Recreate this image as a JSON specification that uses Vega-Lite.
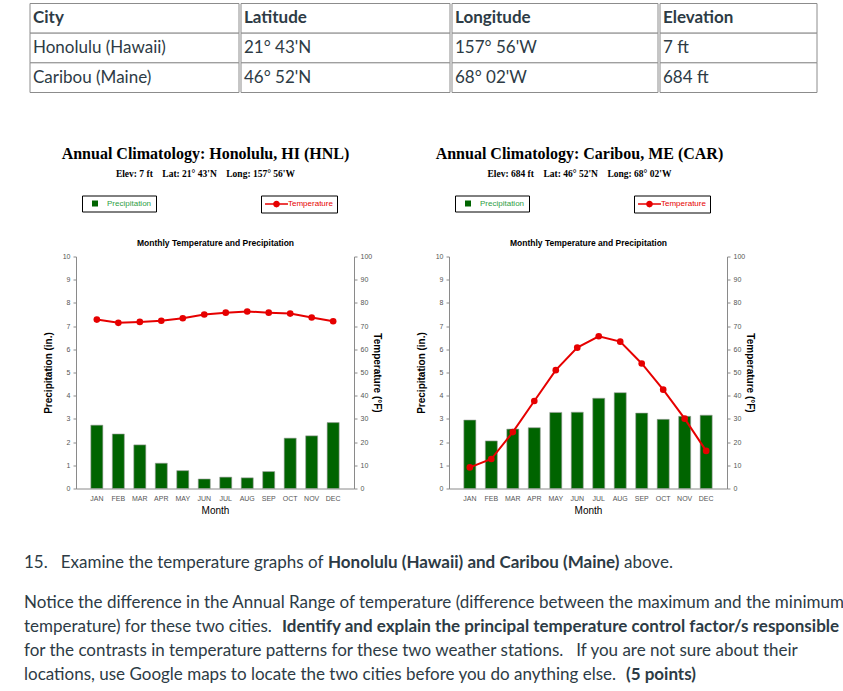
{
  "$schema": "https://vega.github.io/schema/vega-lite/v6.json",
  "padding": {"left": 24, "top": 2.5, "right": 0, "bottom": 0},
  "background": "white",
  "config": {
    "view": {"stroke": null},
    "axis": {
      "grid": false,
      "labelFont": "Liberation Sans",
      "titleFont": "Liberation Sans",
      "labelFontSize": 7,
      "labelColor": "#555555",
      "domainColor": "#8a8a8a",
      "tickColor": "#8a8a8a",
      "titleColor": "#000000"
    },
    "legend": {"labelFont": "Liberation Sans"},
    "text": {"font": "Lato"}
  },
  "datasets": {
    "table": [
      {"row": 1, "City": "City", "Latitude": "Latitude", "Longitude": "Longitude", "Elevation": "Elevation"},
      {"row": 2, "City": "Honolulu (Hawaii)", "Latitude": "21° 43'N", "Longitude": "157° 56'W", "Elevation": "7 ft"},
      {"row": 3, "City": "Caribou (Maine)", "Latitude": "46° 52'N", "Longitude": "68° 02'W", "Elevation": "684 ft"}
    ],
    "honolulu": [
      {"month": "JAN", "precip": 2.73, "temp": 72.8},
      {"month": "FEB", "precip": 2.35, "temp": 71.4},
      {"month": "MAR", "precip": 1.88, "temp": 71.8},
      {"month": "APR", "precip": 1.09, "temp": 72.3},
      {"month": "MAY", "precip": 0.77, "temp": 73.4},
      {"month": "JUN", "precip": 0.41, "temp": 75.0},
      {"month": "JUL", "precip": 0.49, "temp": 75.8},
      {"month": "AUG", "precip": 0.46, "temp": 76.3},
      {"month": "SEP", "precip": 0.73, "temp": 75.8},
      {"month": "OCT", "precip": 2.17, "temp": 75.4},
      {"month": "NOV", "precip": 2.27, "temp": 73.7},
      {"month": "DEC", "precip": 2.84, "temp": 72.1}
    ],
    "caribou": [
      {"month": "JAN", "precip": 2.95, "temp": 9.1},
      {"month": "FEB", "precip": 2.05, "temp": 12.7},
      {"month": "MAR", "precip": 2.56, "temp": 24.3},
      {"month": "APR", "precip": 2.62, "temp": 37.7},
      {"month": "MAY", "precip": 3.28, "temp": 51.0},
      {"month": "JUN", "precip": 3.29, "temp": 60.7},
      {"month": "JUL", "precip": 3.89, "temp": 65.6},
      {"month": "AUG", "precip": 4.13, "temp": 63.3},
      {"month": "SEP", "precip": 3.25, "temp": 53.9},
      {"month": "OCT", "precip": 2.98, "temp": 42.6},
      {"month": "NOV", "precip": 3.11, "temp": 30.1},
      {"month": "DEC", "precip": 3.16, "temp": 16.2}
    ],
    "question": [
      {"line": 1, "part": "a", "text": "15.\u00a0\u00a0 Examine the temperature graphs of"},
      {"line": 1, "part": "b", "text": "Honolulu (Hawaii) and Caribou (Maine)"},
      {"line": 1, "part": "c", "text": "above."}
    ],
    "paragraph": [
      {"line": 1, "part": "a", "text": "Notice the difference in the Annual Range of temperature (difference between the maximum and the minimum"},
      {"line": 2, "part": "a", "text": "temperature) for these two cities."},
      {"line": 2, "part": "b", "text": "Identify and explain the principal temperature control factor/s responsible"},
      {"line": 3, "part": "a", "text": "for the contrasts in temperature patterns for these two weather stations.\u00a0\u00a0 If you are not sure about their"},
      {"line": 4, "part": "a", "text": "locations, use Google maps to locate the two cities before you do anything else."},
      {"line": 4, "part": "b", "text": "(5 points)"}
    ]
  },
  "spacing": 52,
  "vconcat": [
    {
      "spacing": 0,
      "hconcat": [
        {
          "width": 209, "height": 89, "data": {"name": "table"},
          "layer": [
            {"mark": {"type": "rect", "fill": "#ffffff", "stroke": "#8c8c8c"},
             "encoding": {"y": {"field": "row", "type": "ordinal", "axis": null, "scale": {"paddingInner": 0, "paddingOuter": 0}}}},
            {"transform": [{"filter": "datum.row === 1"}],
             "mark": {"type": "text", "align": "left", "dx": 3, "fontSize": 17, "fontWeight": "bold", "color": "#2d3b45"},
             "encoding": {"y": {"field": "row", "type": "ordinal", "axis": null}, "x": {"value": 0}, "text": {"field": "City"}}},
            {"transform": [{"filter": "datum.row > 1"}],
             "mark": {"type": "text", "align": "left", "dx": 3, "fontSize": 17, "color": "#2d3b45"},
             "encoding": {"y": {"field": "row", "type": "ordinal", "axis": null}, "x": {"value": 0}, "text": {"field": "City"}}}
          ]
        },
        {
          "width": 209, "height": 89, "data": {"name": "table"},
          "layer": [
            {"mark": {"type": "rect", "fill": "#ffffff", "stroke": "#8c8c8c"},
             "encoding": {"y": {"field": "row", "type": "ordinal", "axis": null, "scale": {"paddingInner": 0, "paddingOuter": 0}}}},
            {"transform": [{"filter": "datum.row === 1"}],
             "mark": {"type": "text", "align": "left", "dx": 3, "fontSize": 17, "fontWeight": "bold", "color": "#2d3b45"},
             "encoding": {"y": {"field": "row", "type": "ordinal", "axis": null}, "x": {"value": 0}, "text": {"field": "Latitude"}}},
            {"transform": [{"filter": "datum.row > 1"}],
             "mark": {"type": "text", "align": "left", "dx": 3, "fontSize": 17, "color": "#2d3b45"},
             "encoding": {"y": {"field": "row", "type": "ordinal", "axis": null}, "x": {"value": 0}, "text": {"field": "Latitude"}}}
          ]
        },
        {
          "width": 206, "height": 89, "data": {"name": "table"},
          "layer": [
            {"mark": {"type": "rect", "fill": "#ffffff", "stroke": "#8c8c8c"},
             "encoding": {"y": {"field": "row", "type": "ordinal", "axis": null, "scale": {"paddingInner": 0, "paddingOuter": 0}}}},
            {"transform": [{"filter": "datum.row === 1"}],
             "mark": {"type": "text", "align": "left", "dx": 3, "fontSize": 17, "fontWeight": "bold", "color": "#2d3b45"},
             "encoding": {"y": {"field": "row", "type": "ordinal", "axis": null}, "x": {"value": 0}, "text": {"field": "Longitude"}}},
            {"transform": [{"filter": "datum.row > 1"}],
             "mark": {"type": "text", "align": "left", "dx": 3, "fontSize": 17, "color": "#2d3b45"},
             "encoding": {"y": {"field": "row", "type": "ordinal", "axis": null}, "x": {"value": 0}, "text": {"field": "Longitude"}}}
          ]
        },
        {
          "width": 157, "height": 89, "data": {"name": "table"},
          "layer": [
            {"mark": {"type": "rect", "fill": "#ffffff", "stroke": "#8c8c8c"},
             "encoding": {"y": {"field": "row", "type": "ordinal", "axis": null, "scale": {"paddingInner": 0, "paddingOuter": 0}}}},
            {"transform": [{"filter": "datum.row === 1"}],
             "mark": {"type": "text", "align": "left", "dx": 3, "fontSize": 17, "fontWeight": "bold", "color": "#2d3b45"},
             "encoding": {"y": {"field": "row", "type": "ordinal", "axis": null}, "x": {"value": 0}, "text": {"field": "Elevation"}}},
            {"transform": [{"filter": "datum.row > 1"}],
             "mark": {"type": "text", "align": "left", "dx": 3, "fontSize": 17, "color": "#2d3b45"},
             "encoding": {"y": {"field": "row", "type": "ordinal", "axis": null}, "x": {"value": 0}, "text": {"field": "Elevation"}}}
          ]
        }
      ]
    },
    {
      "spacing": 35,
      "vconcat": [
        {
          "spacing": 0,
          "hconcat": [
            {"width": 13, "height": 1, "data": {"values": [{"k": 0}]}, "mark": {"type": "point", "opacity": 0}},
            {
              "spacing": 34,
              "resolve": {"scale": {"fill": "independent", "stroke": "independent"}, "legend": {"fill": "independent", "stroke": "independent"}},
              "hconcat": [
                {
                  "width": 278, "height": 232,
                  "data": {"name": "honolulu"},
                  "title": {
                    "text": "Annual Climatology: Honolulu, HI (HNL)",
                    "subtitle": "Elev: 7 ft\u00a0\u00a0\u00a0\u00a0Lat: 21° 43'N\u00a0\u00a0\u00a0\u00a0Long: 157° 56'W",
                    "font": "Liberation Serif", "fontSize": 16, "fontWeight": "bold", "color": "#000000",
                    "subtitleFont": "Liberation Serif", "subtitleFontSize": 9.5, "subtitleFontWeight": "bold", "subtitleColor": "#000000",
                    "subtitlePadding": 7, "frame": "bounds", "anchor": "middle", "offset": 17, "dx": -7
                  },
                  "layer": [
                    {
                      "mark": {"type": "bar", "stroke": "#a0a0a0", "strokeWidth": 0.6},
                      "encoding": {
                        "x": {"field": "month", "type": "ordinal", "sort": ["JAN","FEB","MAR","APR","MAY","JUN","JUL","AUG","SEP","OCT","NOV","DEC"],
                              "scale": {"paddingInner": 0.44, "paddingOuter": 0.69},
                              "axis": {"orient": "bottom", "title": "Month", "labelAngle": 0, "ticks": false, "labelPadding": 6, "titleFontSize": 10, "titleFontWeight": "normal", "titlePadding": 4}},
                        "y": {"field": "precip", "type": "quantitative", "scale": {"domain": [0, 10]},
                              "axis": {"orient": "left", "title": "Precipitation (in.)", "values": [0,1,2,3,4,5,6,7,8,9,10], "tickSize": 3, "labelPadding": 3, "titleFontSize": 10, "titleFontWeight": "bold", "titlePadding": 9}},
                        "fill": {"datum": "Precipitation", "scale": {"range": ["#006400"]},
                                 "legend": {"title": null, "orient": "none", "legendX": 6, "legendY": -61, "direction": "horizontal", "padding": 4, "strokeColor": "#000000", "fillColor": "#ffffff", "symbolType": "square", "symbolSize": 36, "symbolOffset": 5, "symbolStrokeWidth": 0, "labelOffset": 8, "labelFontSize": 8, "labelColor": "#2f9e44"}}
                      }
                    },
                    {
                      "encoding": {
                        "x": {"field": "month", "type": "ordinal", "sort": ["JAN","FEB","MAR","APR","MAY","JUN","JUL","AUG","SEP","OCT","NOV","DEC"],
                              "axis": {"orient": "top", "labels": false, "ticks": false, "domain": false, "title": "Monthly Temperature and Precipitation", "titleFontSize": 8.5, "titleFontWeight": "bold", "titlePadding": 9}},
                        "y": {"field": "temp", "type": "quantitative", "scale": {"domain": [0, 100]},
                              "axis": {"orient": "right", "title": "Temperature (°F)", "values": [0,10,20,30,40,50,60,70,80,90,100], "tickSize": 3, "labelPadding": 3, "titleFontSize": 10, "titleFontWeight": "bold", "titlePadding": 0}}
                      },
                      "layer": [
                        {"mark": {"type": "line", "strokeWidth": 2},
                         "encoding": {"stroke": {"datum": "Temperature", "scale": {"range": ["#e60000"]},
                                                 "legend": {"title": null, "orient": "none", "legendX": 185, "legendY": -61, "direction": "horizontal", "padding": 4, "strokeColor": "#000000", "fillColor": "#ffffff", "symbolType": "M-2.55,-0.18L2.55,-0.18L2.55,0.18L-2.55,0.18Z M0.75,0A0.75,0.75 0 1,1 -0.75,0A0.75,0.75 0 1,1 0.75,0Z", "symbolSize": 81, "symbolOffset": 7, "symbolFillColor": "#e60000", "symbolStrokeWidth": 0, "labelOffset": 7, "labelFontSize": 8, "labelColor": "#e60000"}}}},
                        {"mark": {"type": "point", "filled": true, "size": 44, "color": "#e60000", "opacity": 1}}
                      ]
                    }
                  ],
                  "resolve": {"scale": {"y": "independent"}}
                },
                {
                  "width": 278, "height": 232,
                  "data": {"name": "caribou"},
                  "title": {
                    "text": "Annual Climatology: Caribou, ME (CAR)",
                    "subtitle": "Elev: 684 ft\u00a0\u00a0\u00a0\u00a0Lat: 46° 52'N\u00a0\u00a0\u00a0\u00a0Long: 68° 02'W",
                    "font": "Liberation Serif", "fontSize": 16, "fontWeight": "bold", "color": "#000000",
                    "subtitleFont": "Liberation Serif", "subtitleFontSize": 9.5, "subtitleFontWeight": "bold", "subtitleColor": "#000000",
                    "subtitlePadding": 7, "frame": "bounds", "anchor": "middle", "offset": 17, "dx": -6
                  },
                  "layer": [
                    {
                      "mark": {"type": "bar", "stroke": "#a0a0a0", "strokeWidth": 0.6},
                      "encoding": {
                        "x": {"field": "month", "type": "ordinal", "sort": ["JAN","FEB","MAR","APR","MAY","JUN","JUL","AUG","SEP","OCT","NOV","DEC"],
                              "scale": {"paddingInner": 0.44, "paddingOuter": 0.69},
                              "axis": {"orient": "bottom", "title": "Month", "labelAngle": 0, "ticks": false, "labelPadding": 6, "titleFontSize": 10, "titleFontWeight": "normal", "titlePadding": 4}},
                        "y": {"field": "precip", "type": "quantitative", "scale": {"domain": [0, 10]},
                              "axis": {"orient": "left", "title": "Precipitation (in.)", "values": [0,1,2,3,4,5,6,7,8,9,10], "tickSize": 3, "labelPadding": 3, "titleFontSize": 10, "titleFontWeight": "bold", "titlePadding": 9}},
                        "fill": {"datum": "Precipitation", "scale": {"range": ["#006400"]},
                                 "legend": {"title": null, "orient": "none", "legendX": 6, "legendY": -61, "direction": "horizontal", "padding": 4, "strokeColor": "#000000", "fillColor": "#ffffff", "symbolType": "square", "symbolSize": 36, "symbolOffset": 5, "symbolStrokeWidth": 0, "labelOffset": 8, "labelFontSize": 8, "labelColor": "#2f9e44"}}
                      }
                    },
                    {
                      "encoding": {
                        "x": {"field": "month", "type": "ordinal", "sort": ["JAN","FEB","MAR","APR","MAY","JUN","JUL","AUG","SEP","OCT","NOV","DEC"],
                              "axis": {"orient": "top", "labels": false, "ticks": false, "domain": false, "title": "Monthly Temperature and Precipitation", "titleFontSize": 8.5, "titleFontWeight": "bold", "titlePadding": 9}},
                        "y": {"field": "temp", "type": "quantitative", "scale": {"domain": [0, 100]},
                              "axis": {"orient": "right", "title": "Temperature (°F)", "values": [0,10,20,30,40,50,60,70,80,90,100], "tickSize": 3, "labelPadding": 3, "titleFontSize": 10, "titleFontWeight": "bold", "titlePadding": 0}}
                      },
                      "layer": [
                        {"mark": {"type": "line", "strokeWidth": 2},
                         "encoding": {"stroke": {"datum": "Temperature", "scale": {"range": ["#e60000"]},
                                                 "legend": {"title": null, "orient": "none", "legendX": 185, "legendY": -61, "direction": "horizontal", "padding": 4, "strokeColor": "#000000", "fillColor": "#ffffff", "symbolType": "M-2.55,-0.18L2.55,-0.18L2.55,0.18L-2.55,0.18Z M0.75,0A0.75,0.75 0 1,1 -0.75,0A0.75,0.75 0 1,1 0.75,0Z", "symbolSize": 81, "symbolOffset": 7, "symbolFillColor": "#e60000", "symbolStrokeWidth": 0, "labelOffset": 7, "labelFontSize": 8, "labelColor": "#e60000"}}}},
                        {"mark": {"type": "point", "filled": true, "size": 44, "color": "#e60000", "opacity": 1}}
                      ]
                    }
                  ],
                  "resolve": {"scale": {"y": "independent"}}
                }
              ]
            }
          ]
        },
        {
          "spacing": 16,
          "vconcat": [
            {
              "width": 800, "height": 24, "data": {"name": "question"},
              "encoding": {"y": {"field": "line", "type": "ordinal", "axis": null}, "x": {"value": 0}, "text": {"field": "text"}},
              "layer": [
                {"transform": [{"filter": "datum.part === 'a'"}], "mark": {"type": "text", "align": "left", "dx": -6, "fontSize": 17, "color": "#2d3b45"}},
                {"transform": [{"filter": "datum.part === 'b'"}], "mark": {"type": "text", "align": "left", "dx": 298, "fontSize": 17, "fontWeight": "bold", "color": "#2d3b45"}},
                {"transform": [{"filter": "datum.part === 'c'"}], "mark": {"type": "text", "align": "left", "dx": 594, "fontSize": 17, "color": "#2d3b45"}}
              ]
            },
            {
              "width": 800, "height": 97, "data": {"name": "paragraph"},
              "encoding": {"y": {"field": "line", "type": "ordinal", "axis": null}, "x": {"value": 0}, "text": {"field": "text"}},
              "layer": [
                {"transform": [{"filter": "datum.part === 'a'"}], "mark": {"type": "text", "align": "left", "dx": -6, "fontSize": 17, "color": "#2d3b45", "limit": 821, "ellipsis": "\u200b"}},
                {"transform": [{"filter": "datum.part === 'b' && datum.line === 2"}], "mark": {"type": "text", "align": "left", "dx": 252, "fontSize": 17, "fontWeight": "bold", "color": "#2d3b45"}},
                {"transform": [{"filter": "datum.part === 'b' && datum.line === 4"}], "mark": {"type": "text", "align": "left", "dx": 596, "fontSize": 17, "fontWeight": "bold", "color": "#2d3b45"}}
              ]
            }
          ]
        }
      ]
    }
  ]
}
